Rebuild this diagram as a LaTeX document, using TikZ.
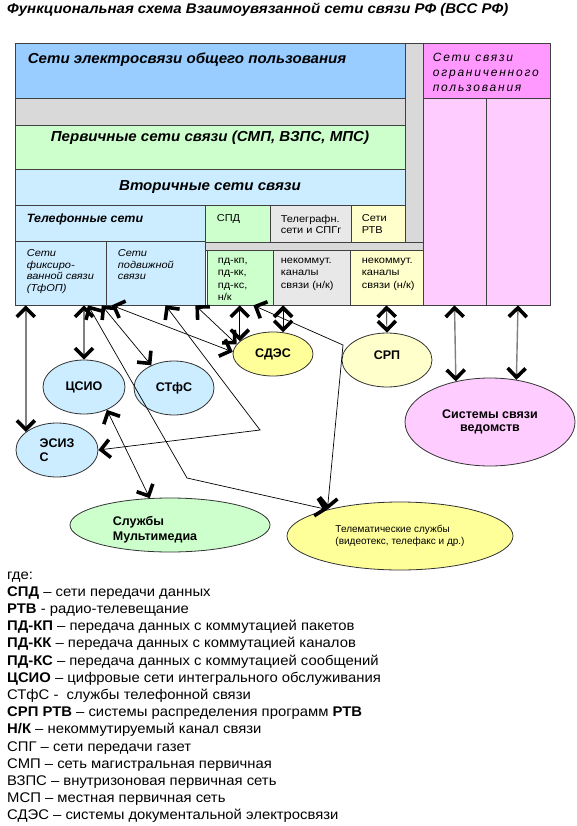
\documentclass[tikz,border=0pt]{standalone}
\usepackage{fontspec}
\setmainfont{Liberation Sans}
\setsansfont{Liberation Sans}
\usetikzlibrary{positioning,arrows.meta,calc,fit,shapes.geometric}

\definecolor{pubblue}{RGB}{153,204,255}
\definecolor{secblue}{RGB}{204,236,255}
\definecolor{primgreen}{RGB}{204,255,204}
\definecolor{stripgray}{RGB}{217,217,217}
\definecolor{boxgray}{RGB}{232,232,232}
\definecolor{paleyellow}{RGB}{255,255,204}
\definecolor{sunyellow}{RGB}{255,255,153}
\definecolor{deeppink}{RGB}{255,153,255}
\definecolor{palepink}{RGB}{255,204,255}

\begin{document}
\begin{tikzpicture}[
  x=1pt, y=-1pt,
  font=\sffamily,
  block/.style={draw=black!75, line width=0.7pt, inner sep=0pt},
  oval/.style={ellipse, draw=black!80, line width=0.8pt, inner sep=1pt, align=left, font=\fontsize{12.5}{13.5}\selectfont\bfseries},
  big/.style={inner sep=0pt, font=\fontsize{14.5}{17}\selectfont\bfseries\itshape\addfontfeature{FakeStretch=1.04}},
  small/.style={inner sep=0pt, align=left, font=\fontsize{10}{11.5}\selectfont\addfontfeature{FakeStretch=1.1}},
  smallit/.style={small, font=\fontsize{10}{11.5}\selectfont\itshape\addfontfeature{FakeStretch=1.1}},
  barb/.tip={Straight Barb[length=9pt, width=18pt, line width=3.6pt, color=black]},
  link/.style={barb-barb, line width=0.7pt},
  dlink/.style={barb-barb, gray, line width=1.4pt},
  legend/.style={anchor=base west, inner sep=0pt, font=\fontsize{14}{17}\selectfont\addfontfeature{FakeStretch=1.06}}
]
\useasboundingbox (0,0) rectangle (576,826);

% title
\node[anchor=north west, inner sep=0pt, font=\fontsize{14}{17}\selectfont\bfseries\itshape\addfontfeature{FakeStretch=1.07}] (title) at (7,3)
  {Функциональная схема Взаимоувязанной сети связи РФ (ВСС РФ)};

% boxes of the network
\node[block, fill=stripgray, fit={(15,43) (423,250)}] (frame) {};
\node[block, fill=pubblue, fit={(15,43) (405,98)}] (pub) {};
\node[block, fill=stripgray, fit={(15,98) (405,125)}] (gap) {};
\node[block, fill=primgreen, fit={(15,125) (405,169)}] (prim) {};
\node[block, fill=secblue, fit={(15,169) (405,205)}] (sec) {};
\node[block, fill=secblue, fit={(15,205) (205,241)}] (tel) {};
\node[block, fill=secblue, fit={(15,241) (106,305)}] (tfop) {};
\node[block, fill=secblue, fit={(106,241) (205,305)}] (mob) {};
\node[block, fill=primgreen, fit={(205,205) (270,242)}] (spd) {};
\node[block, fill=boxgray, fit={(270,205) (351,242)}] (tlg) {};
\node[block, fill=paleyellow, fit={(351,205) (405,242)}] (rtv) {};
\node[block, fill=stripgray, fit={(205,242) (423,250)}] (gap2) {};
\node[block, fill=primgreen, fit={(207,250) (273,305)}] (pd) {};
\node[block, fill=boxgray, fit={(273,250) (350,305)}] (nk1) {};
\node[block, fill=paleyellow, fit={(350,250) (423,305)}] (nk2) {};
\node[block, fill=deeppink, fit={(423,43) (550,98)}] (ogr) {};
\node[block, fill=palepink, fit={(423,98) (486,305)}] (ved1) {};
\node[block, fill=palepink, fit={(486,98) (550,305)}] (ved2) {};

% texts in the boxes
\node[big, below right=10pt and 13pt of pub.north west] {Сети электросвязи общего пользования};
\node[big] at ([yshift=9pt]prim.center) {Первичные сети связи (СМП, ВЗПС, МПС)};
\node[big] at (sec.center) {Вторичные сети связи};
\node[big, font=\fontsize{12}{14}\selectfont\bfseries\itshape\addfontfeature{FakeStretch=1.04}, anchor=west] at ([xshift=12pt, yshift=4pt]tel.west) {Телефонные сети};
\node[smallit, below right=9pt and 12pt of tfop.north west] {Сети\\фиксиро-\\ванной связи\\(ТфОП)};
\node[smallit, below right=9pt and 12pt of mob.north west] {Сети\\подвижной\\связи};
\node[small, below right=10pt and 12pt of spd.north west] {СПД};
\node[small, below right=10pt and 11pt of tlg.north west] {Телеграфн.\\сети и СПГг};
\node[small, below right=10pt and 11pt of rtv.north west] {Сети\\РТВ};
\node[small, font=\fontsize{10}{12.5}\selectfont\addfontfeature{FakeStretch=1.1}, below right=8pt and 11pt of pd.north west] {пд-кп,\\пд-кк,\\пд-кс,\\н/к};
\node[small, font=\fontsize{10}{12.5}\selectfont\addfontfeature{FakeStretch=1.1}, below right=8pt and 8pt of nk1.north west] {некоммут.\\каналы\\связи (н/к)};
\node[small, font=\fontsize{10}{12.5}\selectfont\addfontfeature{FakeStretch=1.1}, below right=8pt and 12pt of nk2.north west] {некоммут.\\каналы\\связи (н/к)};
\node[inner sep=0pt, align=left, font=\fontsize{12}{15}\selectfont\itshape\addfontfeature{LetterSpace=15},
  below right=10pt and 10pt of ogr.north west] {Сети связи\\ограниченного\\пользования};

% services
\node[oval, fill=secblue, minimum width=82pt, minimum height=54pt] (csio) at (84,387) {ЦСИО};
\node[oval, fill=secblue, minimum width=80pt, minimum height=54pt] (stfs) at (174,388) {СТфС};
\node[oval, fill=secblue, minimum width=82pt, minimum height=54pt] (esiz) at (57,450) {ЭСИЗ\\С};
\node[oval, fill=sunyellow, minimum width=80pt, minimum height=44pt] (sdes) at (273,354) {СДЭС};
\node[oval, fill=paleyellow, minimum width=90pt, minimum height=54pt,
  label={[yshift=5pt, font=\fontsize{12.5}{13.5}\selectfont\bfseries]center:СРП}] (srp) at (387,360) {};
\node[oval, fill=palepink, minimum width=170pt, minimum height=88pt, align=center] (ved) at (490,422) {Системы связи\\ведомств};
\node[oval, fill=primgreen, minimum width=200pt, minimum height=54pt,
  label={[xshift=-15pt, yshift=-4.5pt, align=left, font=\fontsize{12.5}{15}\selectfont\bfseries]center:{Службы\\Мультимедиа}}] (mm) at (170,525) {};
\node[oval, fill=sunyellow, minimum width=226pt, minimum height=68pt, font=\fontsize{10}{12}\selectfont] (tlm) at (400,536)
  {Телематические службы\\(видеотекс, телефакс и др.)};

% bends
\coordinate (bendA) at (187,478);
\coordinate (bendB) at (260,430);
\coordinate (bendC) at (343,345);

% gray links
\draw[dlink] (esiz.150 |- tfop.south) -- (esiz.150);
\draw[dlink] (csio.north |- tfop.south) -- (csio.north);
\draw[dlink] (ved1.south) -- (ved.130);
\draw[dlink] (ved2.south) -- (ved.58);

% black links
\draw[link] ($(tfop.south west)!0.8!(tfop.south east)$) -- (bendA) -- (tlm.160);
\draw[link] (csio.-45) -- (mm.127);
\draw[link] ($(tfop.south west)!0.95!(tfop.south east)$) -- (stfs.135);
\draw[link] ($(mob.south west)!0.06!(mob.south east)$) -- (sdes.177);
\draw[link] ($(mob.south west)!0.6!(mob.south east)$) -- (bendB) -- (esiz.east);
\draw[link] ($(mob.south west)!0.9!(mob.south east)$) -- (sdes.165);
\draw[link] (sdes.159 |- pd.south) -- (sdes.159);
\draw[link] ($(pd.south west)!0.7!(pd.south east)$) -- (bendC) -- (tlm.160);
\draw[link] (sdes.65 |- nk1.south) -- (sdes.65);
\draw[link] (nk2.south) -- (srp.north);

% legend
\foreach \entry [count=\i from 0] in {
  где:,
  {\bfseries СПД} – сети передачи данных,
  {\bfseries РТВ} - радио-телевещание,
  {\bfseries ПД-КП} – передача данных с коммутацией пакетов,
  {\bfseries ПД-КК} – передача данных с коммутацией каналов,
  {\bfseries ПД-КС} – передача данных с коммутацией сообщений,
  {\bfseries ЦСИО} – цифровые сети интегрального обслуживания,
  СТфС -\ \ службы телефонной связи,
  {\bfseries СРП РТВ} – системы распределения программ {\bfseries РТВ},
  {\bfseries Н/К} – некоммутируемый канал связи,
  СПГ – сети передачи газет,
  СМП – сеть магистральная первичная,
  ВЗПС – внутризоновая первичная сеть,
  МСП – местная первичная сеть,
  СДЭС – системы документальной электросвязи}
  \node[legend] (note\i) at (7,{579+17.2*\i}) {\entry};

\end{tikzpicture}
\end{document}
